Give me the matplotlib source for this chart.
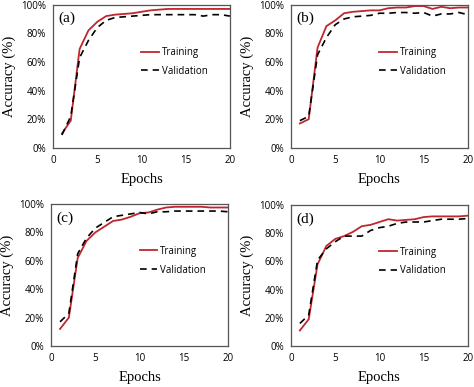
import matplotlib.pyplot as plt
from matplotlib.ticker import PercentFormatter

epochs = list(range(1, 21))

train_a = [10, 19, 69, 82, 88, 92, 93, 93.5, 94, 95, 96, 96.5, 97, 97, 97, 97, 97, 97, 97, 97]
val_a = [9, 22, 63, 75, 84, 89, 91, 91.5, 92, 92.5, 93, 93, 93, 93, 93, 93, 92, 93, 93, 92]

train_b = [17, 20, 70, 85, 89, 94, 95, 95.5, 96, 96, 97.5, 98, 98, 99, 99, 97, 98.5, 97.5, 98, 98]
val_b = [19, 22, 65, 77, 86, 90, 91.5, 92, 92.5, 94, 94, 94.5, 94.5, 94, 94.5, 92, 93.5, 93.5, 94.5, 93]

train_c = [12, 20, 62, 74, 80, 84, 88, 89, 91, 93.5, 94, 96, 97.5, 98, 98, 98, 98, 97.5, 97.5, 97.5]
val_c = [17, 23, 65, 76, 83, 87, 91, 92, 93, 94, 93, 94.5, 94.5, 95, 95, 95, 95, 95, 95, 94.5]

train_d = [11, 19, 58, 71, 76, 78, 81, 85, 86, 88, 90, 89, 89.5, 90, 91.5, 92, 92, 92, 92, 92.5]
val_d = [16, 22, 61, 69, 74, 78, 78, 78, 82, 84, 85, 87, 88, 88, 88, 89, 90, 90, 90, 90.5]

panels = [
    ('(a)', train_a, val_a, [0.112, 0.618, 0.373, 0.370]),
    ('(b)', train_b, val_b, [0.614, 0.618, 0.373, 0.370]),
    ('(c)', train_c, val_c, [0.108, 0.106, 0.373, 0.367]),
    ('(d)', train_d, val_d, [0.614, 0.106, 0.373, 0.364]),
]

fig = plt.figure(figsize=(4.74, 3.87), dpi=100)

for tag, tr, va, pos in panels:
    ax = fig.add_axes(pos)
    ax.plot(epochs, tr, color='#c0262d', lw=1.3, label='Training')
    ax.plot(epochs, va, color='black', lw=1.2, ls=(0, (4, 3)), label='Validation')
    ax.set_xlim(0, 20)
    ax.set_ylim(0, 100)
    ax.set_xticks([0, 5, 10, 15, 20])
    ax.set_yticks(range(0, 101, 20))
    ax.yaxis.set_major_formatter(PercentFormatter(decimals=0))
    ax.tick_params(length=0, labelsize=7, pad=5)
    for lab in ax.get_xticklabels() + ax.get_yticklabels():
        lab.set_family('Open Sans')
    for s in ax.spines.values():
        s.set_color('#555555')
        s.set_linewidth(0.9)
    ax.set_xlabel('Epochs', family='Liberation Serif', fontsize=10.5, labelpad=5)
    ax.set_ylabel('Accuracy (%)', family='Liberation Serif', fontsize=10.5, labelpad=4)
    ax.text(0.03, 0.95, tag, transform=ax.transAxes, family='Liberation Serif',
            fontsize=11, va='top', ha='left')
    ax.legend(loc='center left', bbox_to_anchor=(0.45, 0.6), frameon=False,
              prop={'family': 'Open Sans', 'size': 7}, handlelength=1.8,
              handletextpad=0.3, labelspacing=0.8)

fig.savefig('out.png', dpi=100)
